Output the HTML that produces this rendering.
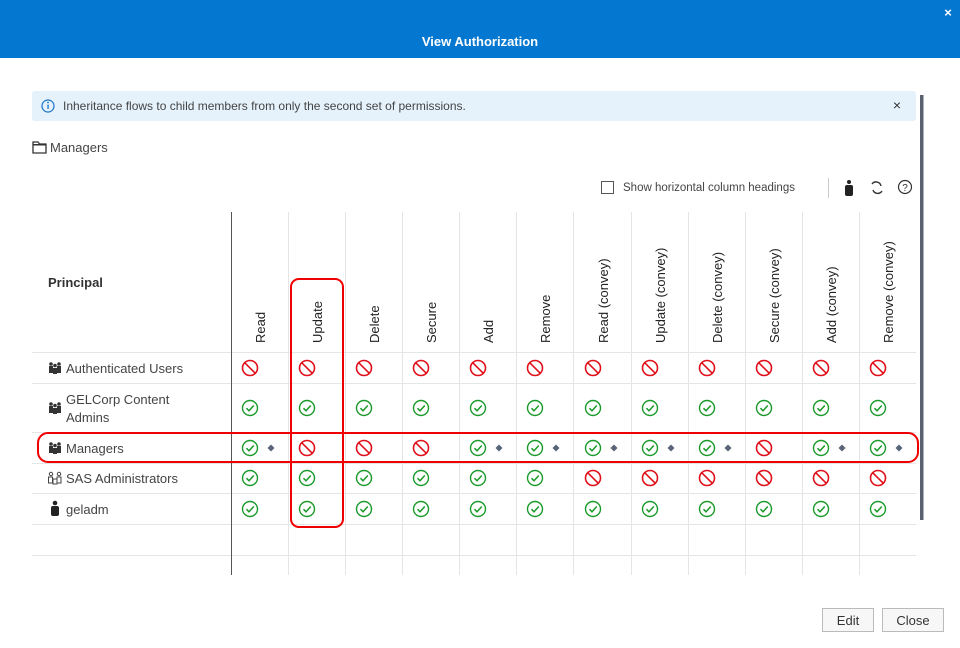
<!DOCTYPE html>
<html><head><meta charset="utf-8"><style>
html,body{margin:0;padding:0;width:960px;height:648px;overflow:hidden;background:#fff;font-family:"Liberation Sans",sans-serif}
</style></head><body>
<svg width="960" height="648" viewBox="0 0 960 648" xmlns="http://www.w3.org/2000/svg" font-family="Liberation Sans, sans-serif">
<defs>
<g id="ok"><circle r="7.5" fill="none" stroke="#1a9a2a" stroke-width="1.4"/><path d="M-3.5,0.2 L-1,2.8 L3.8,-2.5" fill="none" stroke="#1a9a2a" stroke-width="1.5"/></g>
<g id="no"><circle r="7.5" fill="none" stroke="#e0101a" stroke-width="1.6"/><path d="M-5.2,-5.2 L5.2,5.2" stroke="#e0101a" stroke-width="1.6"/></g>
<path id="dia" d="M0,-3.5 L3.5,0 L0,3.5 L-3.5,0Z" fill="#5a6478"/>
<g id="grp" fill="#333"><circle cx="-4" cy="-4" r="1.8"/><circle cx="4" cy="-4" r="1.8"/><circle cx="0" cy="-2.5" r="1.8"/><rect x="-6" y="-2" width="4" height="7"/><rect x="2" y="-2" width="4" height="7"/><rect x="-2" y="0" width="4" height="6"/></g>
</defs>
<rect x="0" y="0" width="960" height="58" fill="#0478d0"/>
<text x="480" y="46" text-anchor="middle" fill="#fff" font-size="13" font-weight="bold">View Authorization</text>
<text x="948" y="17" text-anchor="middle" fill="#fff" font-size="13" font-weight="bold">×</text>
<rect x="32" y="91" width="884" height="30" rx="3" fill="#e5f2fc"/>
<circle cx="48" cy="106" r="6" fill="none" stroke="#1a73c8" stroke-width="1.2"/><rect x="47.4" y="104.5" width="1.3" height="4.5" fill="#1a73c8"/><circle cx="48" cy="102.5" r="0.9" fill="#1a73c8"/>
<text x="63" y="110" font-size="12" fill="#444">Inheritance flows to child members from only the second set of permissions.</text>
<text x="897" y="110" text-anchor="middle" font-size="14" fill="#333">×</text>
<rect x="920" y="95" width="3.5" height="425" fill="#5a6270"/>
<path d="M33,142 L38,142 L39.5,144 L46,144 L46,153 L33,153Z" fill="none" stroke="#333" stroke-width="1.3"/><rect x="33" y="144" width="13" height="1.5" fill="#333"/>
<text x="50" y="152" font-size="13" fill="#444">Managers</text>
<rect x="601.5" y="181.5" width="12" height="12" fill="none" stroke="#555"/>
<text x="623" y="191" font-size="11.5" fill="#444">Show horizontal column headings</text>
<rect x="828" y="178" width="1" height="20" fill="#ccc"/>
<circle cx="849" cy="182" r="2" fill="#222"/><rect x="845" y="185" width="8" height="11" rx="2" fill="#222"/>
<path d="M872,184 A5,5 0 0 1 881,186 M882,191 A5,5 0 0 1 873,190" fill="none" stroke="#333" stroke-width="1.4"/>
<circle cx="905" cy="187" r="6.5" fill="none" stroke="#333" stroke-width="1.2"/><text x="905" y="191" text-anchor="middle" font-size="10" fill="#333">?</text>
<g stroke="#e5e5e5" stroke-width="1">
<line x1="288.5" y1="212" x2="288.5" y2="575"/><line x1="345.5" y1="212" x2="345.5" y2="575"/><line x1="402.5" y1="212" x2="402.5" y2="575"/><line x1="459.5" y1="212" x2="459.5" y2="575"/><line x1="516.5" y1="212" x2="516.5" y2="575"/><line x1="573.5" y1="212" x2="573.5" y2="575"/><line x1="631.5" y1="212" x2="631.5" y2="575"/><line x1="688.5" y1="212" x2="688.5" y2="575"/><line x1="745.5" y1="212" x2="745.5" y2="575"/><line x1="802.5" y1="212" x2="802.5" y2="575"/><line x1="859.5" y1="212" x2="859.5" y2="575"/>
<line x1="32" y1="352.5" x2="916" y2="352.5"/><line x1="32" y1="383.5" x2="916" y2="383.5"/><line x1="32" y1="432.5" x2="916" y2="432.5"/><line x1="32" y1="463.5" x2="916" y2="463.5"/><line x1="32" y1="493.5" x2="916" y2="493.5"/><line x1="32" y1="524.5" x2="916" y2="524.5"/><line x1="32" y1="555.5" x2="916" y2="555.5"/>
</g>
<line x1="231.5" y1="212" x2="231.5" y2="575" stroke="#555" stroke-width="1"/>
<text x="48" y="287" font-size="13" font-weight="bold" fill="#333">Principal</text>
<g font-size="13" fill="#222" text-anchor="start">
<text transform="translate(265,343) rotate(-90)">Read</text>
<text transform="translate(322,343) rotate(-90)">Update</text>
<text transform="translate(379,343) rotate(-90)">Delete</text>
<text transform="translate(436,343) rotate(-90)">Secure</text>
<text transform="translate(493,343) rotate(-90)">Add</text>
<text transform="translate(550,343) rotate(-90)">Remove</text>
<text transform="translate(608,343) rotate(-90)">Read (convey)</text>
<text transform="translate(665,343) rotate(-90)">Update (convey)</text>
<text transform="translate(722,343) rotate(-90)">Delete (convey)</text>
<text transform="translate(779,343) rotate(-90)">Secure (convey)</text>
<text transform="translate(836,343) rotate(-90)">Add (convey)</text>
<text transform="translate(893,343) rotate(-90)">Remove (convey)</text>
</g>
<g font-size="13" fill="#444">
<use href="#grp" x="55" y="368"/><text x="66" y="373">Authenticated Users</text>
<use href="#grp" x="55" y="408"/><text x="66" y="404">GELCorp Content</text><text x="66" y="422">Admins</text>
<use href="#grp" x="55" y="448"/><text x="66" y="453">Managers</text>
<g fill="none" stroke="#444" stroke-width="1"><circle cx="51" cy="474" r="1.7"/><circle cx="59" cy="474" r="1.7"/><rect x="48.5" y="477" width="4" height="6"/><rect x="57" y="477" width="4" height="6"/><rect x="53" y="479" width="4" height="5"/></g><text x="66" y="483">SAS Administrators</text>
<circle cx="55" cy="503" r="2.3" fill="#222"/><rect x="51" y="506" width="8" height="10" rx="2" fill="#222"/><text x="66" y="514">geladm</text>
</g>
<g>
<use href="#no" x="250" y="368"/><use href="#no" x="307" y="368"/><use href="#no" x="364" y="368"/><use href="#no" x="421" y="368"/><use href="#no" x="478" y="368"/><use href="#no" x="535" y="368"/><use href="#no" x="593" y="368"/><use href="#no" x="650" y="368"/><use href="#no" x="707" y="368"/><use href="#no" x="764" y="368"/><use href="#no" x="821" y="368"/><use href="#no" x="878" y="368"/>
<use href="#ok" x="250" y="408"/><use href="#ok" x="307" y="408"/><use href="#ok" x="364" y="408"/><use href="#ok" x="421" y="408"/><use href="#ok" x="478" y="408"/><use href="#ok" x="535" y="408"/><use href="#ok" x="593" y="408"/><use href="#ok" x="650" y="408"/><use href="#ok" x="707" y="408"/><use href="#ok" x="764" y="408"/><use href="#ok" x="821" y="408"/><use href="#ok" x="878" y="408"/>
<use href="#ok" x="250" y="448"/><use href="#dia" x="271" y="448"/><use href="#no" x="307" y="448"/><use href="#no" x="364" y="448"/><use href="#no" x="421" y="448"/><use href="#ok" x="478" y="448"/><use href="#dia" x="499" y="448"/><use href="#ok" x="535" y="448"/><use href="#dia" x="556" y="448"/><use href="#ok" x="593" y="448"/><use href="#dia" x="614" y="448"/><use href="#ok" x="650" y="448"/><use href="#dia" x="671" y="448"/><use href="#ok" x="707" y="448"/><use href="#dia" x="728" y="448"/><use href="#no" x="764" y="448"/><use href="#ok" x="821" y="448"/><use href="#dia" x="842" y="448"/><use href="#ok" x="878" y="448"/><use href="#dia" x="899" y="448"/>
<use href="#ok" x="250" y="478"/><use href="#ok" x="307" y="478"/><use href="#ok" x="364" y="478"/><use href="#ok" x="421" y="478"/><use href="#ok" x="478" y="478"/><use href="#ok" x="535" y="478"/><use href="#no" x="593" y="478"/><use href="#no" x="650" y="478"/><use href="#no" x="707" y="478"/><use href="#no" x="764" y="478"/><use href="#no" x="821" y="478"/><use href="#no" x="878" y="478"/>
<use href="#ok" x="250" y="509"/><use href="#ok" x="307" y="509"/><use href="#ok" x="364" y="509"/><use href="#ok" x="421" y="509"/><use href="#ok" x="478" y="509"/><use href="#ok" x="535" y="509"/><use href="#ok" x="593" y="509"/><use href="#ok" x="650" y="509"/><use href="#ok" x="707" y="509"/><use href="#ok" x="764" y="509"/><use href="#ok" x="821" y="509"/><use href="#ok" x="878" y="509"/>
</g>
<rect x="291" y="279" width="52" height="248" rx="8" fill="none" stroke="#f00000" stroke-width="2"/>
<rect x="38" y="433" width="880" height="29" rx="10" fill="none" stroke="#f00000" stroke-width="2"/>
<rect x="822.5" y="608.5" width="51" height="23" fill="#f7f7f7" stroke="#bbb"/><text x="848" y="625" text-anchor="middle" font-size="13" fill="#333">Edit</text>
<rect x="882.5" y="608.5" width="61" height="23" fill="#f7f7f7" stroke="#bbb"/><text x="913" y="625" text-anchor="middle" font-size="13" fill="#333">Close</text>
</svg>
</body></html>
